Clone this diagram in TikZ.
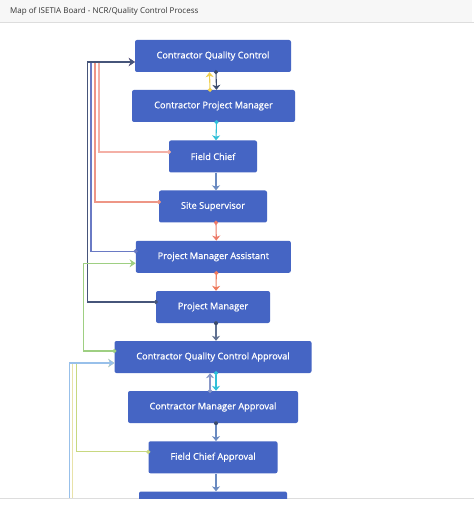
\documentclass[tikz,border=0pt]{standalone}
\usepackage{fontspec}
\setmainfont{Open Sans}
\newfontfamily\nodefont[FakeBold=0.8]{Open Sans}
\usetikzlibrary{arrows.meta}
\definecolor{nodeblue}{HTML}{4565C4}
\definecolor{cnavy}{HTML}{3A4A6C}
\definecolor{cloopnavy}{HTML}{46557A}
\definecolor{cslate}{HTML}{607090}
\definecolor{cpurple}{HTML}{6A7AC4}
\definecolor{cred}{HTML}{EC7A68}
\definecolor{cssline}{HTML}{EE9686}
\definecolor{csalmon}{HTML}{F4B0A6}
\definecolor{cyellow}{HTML}{F0D050}
\definecolor{ccyan}{HTML}{30C0D8}
\definecolor{csteel}{HTML}{6A8AC0}
\definecolor{cgreen}{HTML}{9ECF82}
\definecolor{clblue}{HTML}{98C0EA}
\definecolor{cpale}{HTML}{E8E2A8}
\definecolor{cyg}{HTML}{C8D880}
\definecolor{cgrayblue}{HTML}{8898C8}
\definecolor{hdrbg}{HTML}{F7F7F7}
\definecolor{hdrline}{HTML}{DDDDDD}
\tikzset{
  stepbox/.style={draw=none,fill=nodeblue,rounded corners=2pt,text=white,
    font=\nodefont\fontsize{9.2}{11}\selectfont,minimum height=32pt,inner sep=0pt},
  conn/.style={line width=1.1pt,-{Stealth[length=5pt,width=8pt,inset=1.5pt]}},
  dotconn/.style={line width=1.1pt,{Circle[length=4pt]}-{Stealth[length=5pt,width=8pt,inset=1.5pt]},shorten <=-2pt},
  loop/.style={line width=1.2pt,-{Stealth[length=6pt,width=8pt,inset=2pt]}},
  dotloop/.style={line width=1.2pt,{Circle[length=4pt]}-{Stealth[length=6pt,width=8pt,inset=2pt]},shorten <=-2pt},
}
\begin{document}
\begin{tikzpicture}[x=1pt,y=-1pt]
\useasboundingbox (0,0) rectangle (474,526);
\fill[white] (0,0) rectangle (474,526);
% header
\fill[hdrbg] (0,0) rectangle (472,22);
\draw[hdrline,line width=0.8pt] (0,22.5) -- (474,22.5);
\node[anchor=west,font=\fontsize{8}{9}\selectfont,text=black!80,inner sep=0pt] (title) at (10,11) {Map of ISETIA Board - NCR/Quality Control Process};
\draw[hdrline,line width=0.8pt] (0,498.5) -- (474,498.5);

\begin{scope}
\clip (0,23) rectangle (474,498);
\node[stepbox,minimum width=156pt] (cqc) at (213,56) {Contractor Quality Control};
\node[stepbox,minimum width=163pt] (cpm) at (213.5,106) {Contractor Project Manager};
\node[stepbox,minimum width=88pt] (fc) at (213,156.5) {Field Chief};
\node[stepbox,minimum width=108pt] (ss) at (213,206.5) {Site Supervisor};
\node[stepbox,minimum width=155pt] (pma) at (213.3,256.8) {Project Manager Assistant};
\node[stepbox,minimum width=114pt] (pm) at (213,307) {Project Manager};
\node[stepbox,minimum width=197pt] (cqca) at (213,357) {Contractor Quality Control Approval};
\node[stepbox,minimum width=170pt] (cma) at (213,407) {Contractor Manager Approval};
\node[stepbox,minimum width=129pt] (fca) at (213,457.3) {Field Chief Approval};
\node[stepbox,minimum width=148pt] (nxt) at (213,507.5) {};

% vertical connectors
\draw[dotconn,cnavy] ([xshift=3pt]cqc.south) -- ([xshift=3pt]cpm.north);
\draw[dotconn,cyellow] ([xshift=-3.5pt]cpm.north) -- ([xshift=-3.5pt]cqc.south);
\draw[dotconn,ccyan] ([xshift=3pt]cpm.south) -- ([xshift=3pt]fc.north);
\draw[conn,csteel] ([xshift=3pt]fc.south) -- ([xshift=3pt]ss.north);
\draw[dotconn,cred] ([xshift=3pt]ss.south) -- ([xshift=3pt]pma.north);
\draw[dotconn,cred!90!orange] ([xshift=3pt]pma.south) -- ([xshift=3pt]pm.north);
\draw[dotconn,cslate] ([xshift=3pt]pm.south) -- ([xshift=3pt]cqca.north);
\fill[cnavy] ([xshift=3pt]pm.south) circle (2pt);
\draw[dotconn,ccyan] ([xshift=3pt]cqca.south) -- ([xshift=3pt]cma.north);
\draw[dotconn,cgrayblue] ([xshift=-3pt]cma.north) -- ([xshift=-3pt]cqca.south);
\draw[dotconn,csteel] ([xshift=3pt]cma.south) -- ([xshift=3pt]fca.north);
\fill[cnavy] ([xshift=3pt]cma.south) circle (2pt);
\draw[conn,csteel] ([xshift=3pt]fca.south) -- ([xshift=3pt]nxt.north);

% loop-back connectors
\coordinate (cqcin) at ([yshift=-6pt]cqc.west);
\coordinate (pmain) at ([yshift=-6.5pt]pma.west);
\coordinate (cqcain) at ([yshift=-6pt]cqca.west);
\coordinate (xfc) at (99,0);
\coordinate (xss) at (95,0);
\coordinate (xpma) at (91,0);
\coordinate (xpm) at (87.5,0);
\coordinate (xcq) at (83.5,0);
\coordinate (xfca) at (76.5,0);
\coordinate (lowa) at (72.5,498);
\coordinate (lowb) at (69.5,498);

\draw[dotloop,csalmon] ([yshift=4.5pt]fc.west) -| (xfc |- cqcin) -- (cqcin);
\draw[dotloop,cssline] ([yshift=4.5pt]ss.west) -| (xss |- cqcin) -- (cqcin);
\draw[dotloop,cpurple] ([yshift=5.5pt]pma.west) -| (xpma |- cqcin) -- (cqcin);
\draw[dotloop,cloopnavy] ([yshift=5pt]pm.west) -| (xpm |- cqcin) -- (cqcin);
\draw[dotloop,cgreen] ([yshift=6pt]cqca.west) -| (xcq |- pmain) -- (pmain);
\draw[dotloop,cyg] ([yshift=5.5pt]fca.west) -| (xfca |- cqcain) -- (cqcain);
\draw[loop,cpale] (lowa) |- (cqcain);
\draw[loop,clblue] (lowb) |- (cqcain);
\end{scope}
\end{tikzpicture}
\end{document}
